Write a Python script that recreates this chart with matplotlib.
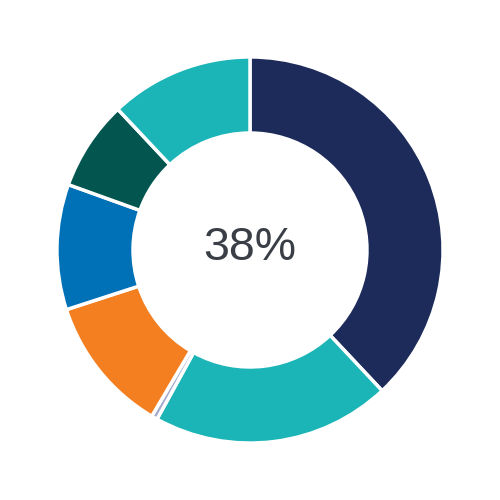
import matplotlib
matplotlib.use("Agg")
from matplotlib import pyplot as plt

# slices, clockwise from 12 o'clock
values = [38, 20, 0.5, 11.5, 10.5, 7.5, 12]
colors = ["#1d2b5b", "#1bb5b7", "#a4aacb", "#f47f21", "#0071b7", "#02564f", "#1bb5b7"]
center_label = "38%"

fig = plt.figure(figsize=(5, 5), dpi=100)
ax = fig.add_axes([0, 0, 1, 1])

ax.pie(values, colors=colors, startangle=90, counterclock=False, radius=1,
       wedgeprops=dict(width=0.394, edgecolor="white", linewidth=2.5))

ax.text(0, 0.01, center_label, ha="center", va="center", fontsize=33.5,
        color="#3a3f47", family="Liberation Sans")

ax.set_xlim(-1.295, 1.295)
ax.set_ylim(-1.295, 1.295)
ax.set_aspect("equal")
ax.axis("off")

fig.savefig("out.png", dpi=100, facecolor="white")
